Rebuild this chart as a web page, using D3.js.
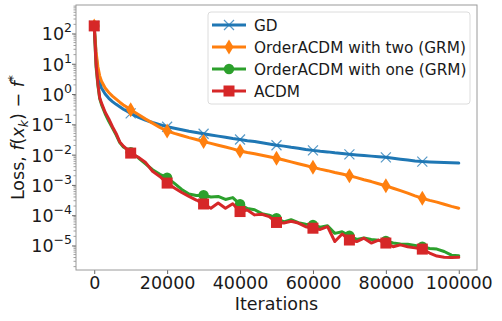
<!DOCTYPE html>
<html>
<head>
<meta charset="utf-8">
<script src="https://cdn.jsdelivr.net/npm/d3@7"></script>
<style>
body { margin: 0; background: #fff; }
text { font-family: "DejaVu Sans", sans-serif; fill: #1a1a1a; }
</style>
</head>
<body>
<div id="chart"></div>
<script>
// iterations where the loss was recorded
const iterations = [0, 500, 1000, 1500, 2000, 3000, 4000, 5000, 6000, 7000, 8000, 9000, 10000,
  12000, 14000, 16000, 18000, 20000, 22000, 24000, 26000, 28000, 30000,
  32000, 34000, 36000, 38000, 40000, 42000, 44000, 46000, 48000, 50000,
  52000, 54000, 56000, 58000, 60000, 62000, 64000, 66000, 68000, 70000,
  72000, 74000, 76000, 78000, 80000, 82000, 84000, 86000, 88000, 90000,
  92000, 94000, 96000, 98000, 100000];

// log10 of the loss f(x_k) - f*
const gdLog = [2.25, 1.3, 0.75, 0.4, 0.2, 0.0, -0.14, -0.25, -0.34, -0.42, -0.5, -0.57, -0.64,
  -0.76, -0.86, -0.94, -1.01, -1.08, -1.13, -1.18, -1.23, -1.27, -1.31,
  -1.35, -1.39, -1.43, -1.47, -1.50, -1.54, -1.57, -1.61, -1.65, -1.69,
  -1.72, -1.76, -1.79, -1.83, -1.86, -1.89, -1.91, -1.94, -1.96, -1.99,
  -2.01, -2.03, -2.05, -2.07, -2.09, -2.12, -2.15, -2.18, -2.21, -2.23,
  -2.24, -2.25, -2.26, -2.27, -2.28];

const orderTwoLog = [2.25, 1.4, 0.9, 0.6, 0.42, 0.2, 0.05, -0.07, -0.17, -0.27, -0.36, -0.44, -0.52,
  -0.67, -0.82, -0.96, -1.1, -1.22, -1.3, -1.37, -1.44, -1.5, -1.57,
  -1.63, -1.69, -1.75, -1.81, -1.88, -1.93, -1.97, -2.02, -2.07, -2.12,
  -2.18, -2.24, -2.3, -2.36, -2.42, -2.48, -2.53, -2.59, -2.64, -2.70,
  -2.76, -2.83, -2.89, -2.96, -3.03, -3.11, -3.19, -3.27, -3.36, -3.44,
  -3.51, -3.57, -3.64, -3.71, -3.77];

const orderOneLog = [2.25, 0.9, 0.3, -0.15, -0.35, -0.65, -0.9, -1.12, -1.35, -1.6, -1.75, -1.82, -1.92,
  -2.1, -2.3, -2.5, -2.65, -2.76, -2.95, -3.15, -3.3, -3.35, -3.34,
  -3.4, -3.38, -3.48, -3.42, -3.64, -3.78, -3.82, -3.95, -4.0, -4.1,
  -4.22, -4.15, -4.25, -4.3, -4.32, -4.4, -4.35, -4.6, -4.55, -4.68,
  -4.8, -4.75, -4.8, -4.83, -4.85, -4.92, -4.95, -4.96, -5.0, -5.04,
  -5.1, -5.12, -5.2, -5.32, -5.34];

const acdmLog = [2.25, 1.0, 0.35, -0.12, -0.3, -0.6, -0.82, -1.08, -1.3, -1.58, -1.72, -1.83, -1.95,
  -2.08, -2.25, -2.55, -2.72, -2.94, -3.1, -3.25, -3.38, -3.5, -3.63,
  -3.77, -3.6, -3.77, -3.62, -3.88, -3.83, -3.99, -3.97, -4.05, -4.24,
  -4.26, -4.2, -4.26, -4.38, -4.43, -4.47, -4.38, -4.87, -4.62, -4.82,
  -4.87, -4.76, -4.92, -4.82, -4.92, -5.04, -4.98, -5.04, -5.08, -5.12,
  -5.25, -5.35, -5.39, -5.4, -5.39];

const seriesNames = ["GD", "OrderACDM with two (GRM)", "OrderACDM with one (GRM)", "ACDM"];
const seriesColors = ["#1f77b4", "#ff7f0e", "#2ca02c", "#d62728"];
const seriesMarkers = ["x", "thin_diamond", "circle", "square"];
const xTicks = [0, 20000, 40000, 60000, 80000, 100000];
const yTickExps = [-5, -4, -3, -2, -1, 0, 1, 2];

const dimensions = {
  width: 502,
  height: 321,
  margins: { top: 5, right: 25, bottom: 51, left: 76 }
};
dimensions.bordWidth = dimensions.width - dimensions.margins.left - dimensions.margins.right;
dimensions.bordHeight = dimensions.height - dimensions.margins.top - dimensions.margins.bottom;

const svg = d3.select("#chart").append("svg")
  .attr("width", dimensions.width)
  .attr("height", dimensions.height);

const borders = svg.append("g")
  .attr("transform", `translate(${dimensions.margins.left},${dimensions.margins.top})`);

const xScale = d3.scaleLinear()
  .domain([-5000, 105000])
  .range([0, dimensions.bordWidth]);

const yScale = d3.scaleLog()
  .domain([Math.pow(10, -5.81), Math.pow(10, 2.94)])
  .range([dimensions.bordHeight, 0]);

svg.append("defs").append("clipPath").attr("id", "plot-clip")
  .append("rect")
  .attr("width", dimensions.bordWidth)
  .attr("height", dimensions.bordHeight);

// axes
const xAxis = d3.axisBottom(xScale).tickValues(xTicks).tickSize(4).tickPadding(3).tickFormat(d3.format("d"));
const xAxisG = borders.append("g")
  .attr("transform", `translate(0,${dimensions.bordHeight})`)
  .call(xAxis);
xAxisG.select(".domain").remove();
xAxisG.selectAll("line").attr("stroke", "#666");
xAxisG.selectAll("text").style("font-size", "17.5px").attr("fill", "#1a1a1a");

// minor ticks on the log axis
const minorTicks = [];
for (let d = -6; d <= 2; d++) {
  for (let m = 2; m <= 9; m++) {
    const v = m * Math.pow(10, d);
    if (v > yScale.domain()[0] && v < yScale.domain()[1]) minorTicks.push(v);
  }
}
borders.append("g").selectAll("line")
  .data(minorTicks)
  .join("line")
  .attr("x1", -2.5).attr("x2", 0)
  .attr("y1", d => yScale(d)).attr("y2", d => yScale(d))
  .attr("stroke", "#777").attr("stroke-width", 0.7);

const yAxis = d3.axisLeft(yScale).tickValues(yTickExps.map(e => Math.pow(10, e))).tickSize(4).tickFormat("");
const yAxisG = borders.append("g").call(yAxis);
yAxisG.select(".domain").remove();
yAxisG.selectAll("line").attr("stroke", "#666");

// y tick labels as 10^n
const yLabels = borders.append("g").selectAll("text")
  .data(yTickExps)
  .join("text")
  .attr("x", -4)
  .attr("y", d => yScale(Math.pow(10, d)) + 7)
  .attr("text-anchor", "end")
  .style("font-size", "17.5px");
yLabels.append("tspan").text("10");
yLabels.append("tspan")
  .attr("dy", -8)
  .style("font-size", "12.5px")
  .text(d => d < 0 ? "\u2212" + Math.abs(d) : String(d));

// frame
borders.append("rect")
  .attr("width", dimensions.bordWidth)
  .attr("height", dimensions.bordHeight)
  .attr("fill", "none")
  .attr("stroke", "#9a9a9a")
  .attr("stroke-width", 1);

// markers
function drawMarker(g, type, color) {
  if (type === "x") {
    g.append("path").attr("d", "M-5,-5L5,5M-5,5L5,-5")
      .attr("stroke", color).attr("stroke-width", 1.2).attr("fill", "none").attr("opacity", 0.75);
  } else if (type === "thin_diamond") {
    g.append("path").attr("d", "M0,-7.5L4.5,0L0,7.5L-4.5,0Z").attr("fill", color);
  } else if (type === "circle") {
    g.append("circle").attr("r", 5.2).attr("fill", color);
  } else {
    g.append("rect").attr("x", -5.5).attr("y", -5.5).attr("width", 11).attr("height", 11).attr("fill", color);
  }
}

const seriesLogs = [gdLog, orderTwoLog, orderOneLog, acdmLog];
const line = d3.line()
  .x(d => xScale(d.x))
  .y(d => yScale(d.y));

const plot = borders.append("g").attr("clip-path", "url(#plot-clip)");

seriesLogs.forEach((logs, i) => {
  const points = iterations.map((x, j) => ({ x: x, y: Math.pow(10, logs[j]) }));
  const g = plot.append("g");
  g.append("path")
    .datum(points)
    .attr("d", line)
    .attr("fill", "none")
    .attr("stroke", seriesColors[i])
    .attr("stroke-width", 3)
    .attr("stroke-linejoin", "round")
    .attr("stroke-linecap", "round");
  const marks = points.filter(p => p.x % 10000 === 0 && p.x < 100000);
  marks.forEach(p => {
    const m = g.append("g").attr("transform", `translate(${xScale(p.x)},${yScale(p.y)})`);
    drawMarker(m, seriesMarkers[i], seriesColors[i]);
  });
});

// axis labels
svg.append("text")
  .attr("x", dimensions.margins.left + dimensions.bordWidth / 2)
  .attr("y", 310)
  .attr("text-anchor", "middle")
  .style("font-size", "17.5px")
  .text("Iterations");

const yLab = svg.append("text")
  .attr("transform", `translate(24,${dimensions.margins.top + dimensions.bordHeight / 2}) rotate(-90)`)
  .attr("text-anchor", "middle")
  .style("font-size", "17.5px");
yLab.append("tspan").text("Loss, ");
yLab.append("tspan").style("font-style", "italic").text("f");
yLab.append("tspan").text("(");
yLab.append("tspan").style("font-style", "italic").text("x");
yLab.append("tspan").attr("dy", 4).style("font-size", "12.5px").style("font-style", "italic").text("k");
yLab.append("tspan").attr("dy", -4).text(") \u2212 ");
yLab.append("tspan").style("font-style", "italic").text("f");
yLab.append("tspan").attr("dy", -7).style("font-size", "12.5px").text("*");

// legend
const legend = svg.append("g").attr("transform", "translate(208,12)");
legend.append("rect")
  .attr("width", 262).attr("height", 92)
  .attr("rx", 3)
  .attr("fill", "#fff").attr("fill-opacity", 0.85)
  .attr("stroke", "#dcdcdc");
seriesNames.forEach((name, i) => {
  const row = legend.append("g").attr("transform", `translate(0,${13 + i * 22})`);
  row.append("line")
    .attr("x1", 4).attr("x2", 38)
    .attr("stroke", seriesColors[i]).attr("stroke-width", 3);
  drawMarker(row.append("g").attr("transform", "translate(21,0)"), seriesMarkers[i], seriesColors[i]);
  row.append("text")
    .attr("x", 46).attr("y", 5.5)
    .style("font-size", "15.3px")
    .text(name);
});
</script>
</body>
</html>
